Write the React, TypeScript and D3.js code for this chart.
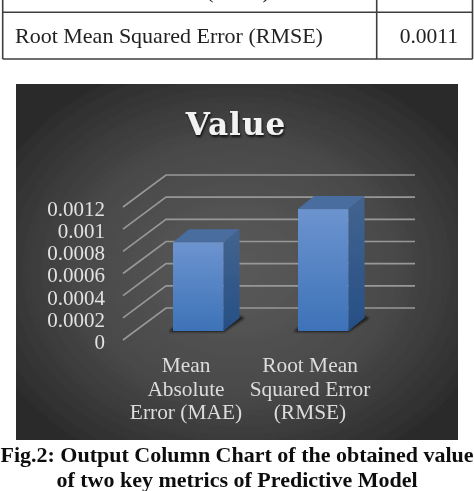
import React, { useRef, useEffect } from 'react';
import * as d3 from 'd3';

const categories = ['Mean Absolute Error (MAE)', 'Root Mean Squared Error (RMSE)'];
const values = [0.0008, 0.0011];
const categoryLines = [
  ['Mean', 'Absolute', 'Error (MAE)'],
  ['Root Mean', 'Squared Error', '(RMSE)'],
];
const tickValues = [0, 0.0002, 0.0004, 0.0006, 0.0008, 0.001, 0.0012];
const tableCutLabel = 'Mean Absolute Error (MAE)';
const tableLabel = 'Root Mean Squared Error (RMSE)';
const tableValue = '0.0011';
const captionLines = [
  'Fig.2: Output Column Chart of the obtained value',
  'of two key metrics of Predictive Model',
];

const width = 474;
const height = 491;
const serif = '"Liberation Serif", serif';

const App: React.FC = () => {
  const svgRef = useRef<SVGSVGElement>(null);

  useEffect(() => {
    if (!svgRef.current) return;
    const svg = d3.select(svgRef.current);
    svg.selectAll('*').remove();

    const defs = svg.append('defs');

    const bg = defs
      .append('radialGradient')
      .attr('id', 'panelBg')
      .attr('cx', '50%')
      .attr('cy', '52%')
      .attr('r', '62%');
    bg.append('stop').attr('offset', '0%').attr('stop-color', '#5a5a5a');
    bg.append('stop').attr('offset', '55%').attr('stop-color', '#4a4a4a');
    bg.append('stop').attr('offset', '100%').attr('stop-color', '#2a2a2a');

    const front = defs
      .append('linearGradient')
      .attr('id', 'barFront')
      .attr('x1', 0)
      .attr('y1', 0)
      .attr('x2', 0)
      .attr('y2', 1);
    front.append('stop').attr('offset', '0%').attr('stop-color', '#6c94cf');
    front.append('stop').attr('offset', '100%').attr('stop-color', '#3d72b8');

    const side = defs
      .append('linearGradient')
      .attr('id', 'barSide')
      .attr('x1', 0)
      .attr('y1', 0)
      .attr('x2', 0)
      .attr('y2', 1);
    side.append('stop').attr('offset', '0%').attr('stop-color', '#43648f');
    side.append('stop').attr('offset', '100%').attr('stop-color', '#264f85');

    const shadow = defs.append('filter').attr('id', 'titleShadow');
    shadow
      .append('feDropShadow')
      .attr('dx', 1)
      .attr('dy', 2)
      .attr('stdDeviation', 1.2)
      .attr('flood-color', '#000')
      .attr('flood-opacity', 0.8);

    const soft = defs
      .append('filter')
      .attr('id', 'soft')
      .attr('filterUnits', 'userSpaceOnUse')
      .attr('x', 0)
      .attr('y', 0)
      .attr('width', width)
      .attr('height', height);
    soft.append('feGaussianBlur').attr('stdDeviation', 0.4);

    const blur = defs.append('filter').attr('id', 'baseBlur');
    blur.append('feGaussianBlur').attr('stdDeviation', 1);

    svg.append('rect').attr('width', width).attr('height', height).attr('fill', '#fff');

    const root = svg.append('g').attr('filter', 'url(#soft)');

    // Table fragment at the top
    const table = root.append('g');
    const rules: [number, number, number, number][] = [
      [2.7, 12.3, 472.5, 12.3],
      [2.7, 59, 472.5, 59],
      [2.7, 0, 2.7, 59],
      [472.5, 0, 472.5, 59],
      [376.7, 0, 376.7, 59],
    ];
    rules.forEach(([x1, y1, x2, y2]) => {
      table
        .append('line')
        .attr('x1', x1)
        .attr('y1', y1)
        .attr('x2', x2)
        .attr('y2', y2)
        .attr('stroke', '#3c3c3c')
        .attr('stroke-width', 1.6);
    });
    table
      .append('text')
      .attr('x', 15)
      .attr('y', -2)
      .attr('font-family', serif)
      .attr('font-size', 22)
      .attr('fill', '#222')
      .text(tableCutLabel);
    table
      .append('text')
      .attr('x', 15)
      .attr('y', 43)
      .attr('font-family', serif)
      .attr('font-size', 22)
      .attr('fill', '#222')
      .text(tableLabel);
    table
      .append('text')
      .attr('x', 458)
      .attr('y', 43)
      .attr('text-anchor', 'end')
      .attr('font-family', serif)
      .attr('font-size', 21.5)
      .attr('fill', '#222')
      .text(tableValue);

    // Chart panel
    const panel = { x: 16, y: 84, w: 442, h: 356 };
    root
      .append('rect')
      .attr('x', panel.x)
      .attr('y', panel.y)
      .attr('width', panel.w)
      .attr('height', panel.h)
      .attr('fill', 'url(#panelBg)');

    root
      .append('text')
      .attr('x', 236)
      .attr('y', 135)
      .attr('text-anchor', 'middle')
      .attr('font-family', '"DejaVu Serif", serif')
      .attr('font-weight', 'bold')
      .attr('font-size', 31)
      .attr('letter-spacing', 1)
      .attr('fill', '#f2f2f2')
      .attr('filter', 'url(#titleShadow)')
      .text('Value');

    // Back wall scale, the floor and side wall are offset from it
    const yBack = d3.scaleLinear().domain([0, 0.0012]).range([308, 175]);
    const wallDx = 43;
    const wallDy = 32;
    const xWall = 166;
    const xWallEnd = 415;

    const grid = root.append('g').attr('stroke', '#989898').attr('stroke-width', 1.6).attr('fill', 'none');
    tickValues.forEach((t) => {
      const yy = yBack(t);
      grid
        .append('path')
        .attr('d', d3.line()([[xWall - wallDx, yy + wallDy], [xWall, yy], [xWallEnd, yy]]));
    });

    const axis = root
      .append('g')
      .attr('transform', `translate(${xWall - wallDx + 6},${wallDy})`)
      .call(
        d3
          .axisLeft(yBack)
          .tickValues(tickValues)
          .tickSize(0)
          .tickPadding(24)
          .tickFormat((d) => String(d3.format('.4~f')(d as number)))
      );
    axis.select('.domain').remove();
    axis
      .selectAll('text')
      .attr('font-family', serif)
      .attr('font-size', 21)
      .attr('fill', '#e2e2e2')
      .attr('dy', '0.4em');

    // Columns
    const xBar = d3
      .scaleBand<string>()
      .domain(categories)
      .range([173, 348.5])
      .paddingInner(0.596)
      .paddingOuter(0);
    const yBar = d3.scaleLinear().domain([0, 0.0012]).range([331, 198]);
    const depthX = 16;
    const depthY = 13;

    categories.forEach((c, i) => {
      const x0 = xBar(c) as number;
      const x1 = x0 + xBar.bandwidth();
      const yTop = yBar(values[i]);
      const yBase = yBar(0);
      const g = root.append('g');
      g.append('path')
        .attr('d', d3.line()([[x0 - 4, yBase + 1], [x1, yBase + 1], [x1 + depthX + 5, yBase - depthY], [x1 + depthX, yBase - depthY - 2], [x1, yBase - 3], [x0, yBase - 3]]) + 'Z')
        .attr('fill', '#1a1a1a')
        .attr('filter', 'url(#baseBlur)');
      g.append('path')
        .attr('d', d3.line()([[x1, yTop], [x1 + depthX, yTop - depthY], [x1 + depthX, yBase - depthY], [x1, yBase]]) + 'Z')
        .attr('fill', 'url(#barSide)');
      g.append('path')
        .attr('d', d3.line()([[x0, yTop], [x0 + depthX, yTop - depthY], [x1 + depthX, yTop - depthY], [x1, yTop]]) + 'Z')
        .attr('fill', '#4a6d9f');
      g.append('rect')
        .attr('x', x0)
        .attr('y', yTop)
        .attr('width', x1 - x0)
        .attr('height', yBase - yTop)
        .attr('fill', 'url(#barFront)');
    });

    // Category labels
    const labelCenters = [186, 310];
    categoryLines.forEach((lines, i) => {
      lines.forEach((line, j) => {
        root
          .append('text')
          .attr('x', labelCenters[i])
          .attr('y', 372 + j * 23.5)
          .attr('text-anchor', 'middle')
          .attr('font-family', serif)
          .attr('font-size', 21.4)
          .attr('fill', '#dcdcdc')
          .text(line);
      });
    });

    // Figure caption
    captionLines.forEach((line, i) => {
      root
        .append('text')
        .attr('x', 237)
        .attr('y', 462 + i * 25)
        .attr('text-anchor', 'middle')
        .attr('font-family', serif)
        .attr('font-weight', 'bold')
        .attr('font-size', 22)
        .attr('fill', '#111')
        .text(line);
    });
  }, []);

  return <svg ref={svgRef} width={width} height={height} style={{ position: 'absolute', left: 0, top: 0 }} />;
};

export default App;
